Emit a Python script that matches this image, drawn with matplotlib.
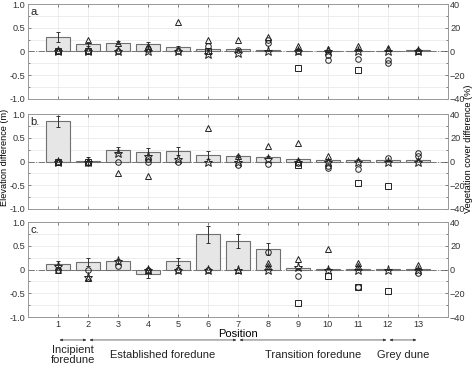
import numpy as np
import matplotlib
matplotlib.use("Agg")
from matplotlib import pyplot as plt
from matplotlib.ticker import MultipleLocator
import matplotlib.transforms as mtransforms

nan = np.nan
positions = np.arange(1, 14)

# elevation difference (m), bars + error
elev_a = [0.31, 0.16, 0.185, 0.16, 0.09, 0.06, 0.05, 0.03, 0.02, 0.02, 0.02, 0.02, 0.03]
err_a = [0.10, 0.05, 0.03, 0.04, 0.02, 0.02, 0.01, 0.01, 0.01, 0.01, 0.01, 0.01, 0.01]
elev_b = [0.85, 0.01, 0.25, 0.21, 0.22, 0.14, 0.11, 0.09, 0.05, 0.04, 0.04, 0.03, 0.04]
err_b = [0.12, 0.08, 0.06, 0.07, 0.08, 0.08, 0.02, 0.02, 0.01, 0.01, 0.01, 0.01, 0.01]
elev_c = [0.12, 0.16, 0.17, -0.09, 0.17, 0.74, 0.60, 0.43, 0.03, 0.02, 0.01, 0.01, 0.01]
err_c = [0.07, 0.08, 0.06, 0.08, 0.08, 0.18, 0.14, 0.12, 0.01, 0.01, 0.01, 0.01, 0.01]

# vegetation cover difference (%), markers
tri_a = [0, 10, 7.4, 5, 25, 10, 9.4, 12, 4.5, 2, 5, 2.5, 0]
circ_a = [0, 0, 0, 2, 0, 5, 1, 9.6, 0, -3, -6, -7, 0]
circ2_a = [nan, nan, nan, nan, nan, nan, nan, 7.4, nan, -7, nan, -10, nan]
sq_a = [0, 0, nan, nan, nan, 0, nan, nan, -14, nan, -15.6, nan, nan]
star_a = [0, 0, 0, 0, 0, -2, -1, 0, 0, 0, 0, 0, 0]

tri_b = [0, 0, -10, -12, nan, 28, 5, 13, 15.6, 5, nan, nan, nan]
circ_b = [0, -1, 0, 2, 0, nan, -3, -2, -1, -3.4, -6, 3, 7]
circ2_b = [nan, nan, nan, 0, nan, nan, nan, nan, nan, -5.4, nan, nan, 5]
sq_b = [0, 0, nan, nan, nan, nan, nan, nan, -3, nan, -18, -21, nan]
star_b = [0, 0, 7, 4.5, 2, 0, 0, 2, 0, 0, 0, 0, 0]

tri_c = [0, -7.3, nan, 0, nan, nan, 0, 5.4, 8.9, 17.4, 5.4, nan, 4]
tri2_c = [nan, nan, nan, nan, nan, nan, nan, 3.4, nan, nan, 3, nan, nan]
circ_c = [0, 0, 3.4, 0, 0, 0, nan, 14.8, -5.4, nan, -14.5, nan, -2.5]
sq_c = [nan, nan, nan, nan, nan, nan, nan, nan, -27.8, -5.4, -14.5, -18, nan]
star_c = [3.4, -6, 6.8, 0, 0, 0, 0, 0, 2, 0, 0, 0, 0]

zone_names = ["Incipient\nforedune", "Established foredune", "Transition foredune", "Grey dune"]
zone_start = [1, 2, 7, 12]
zone_end = [2, 7, 12, 13]

plt.rcParams['font.family'] = ['Liberation Sans', 'DejaVu Sans']
plt.rcParams['font.size'] = 6.6

fig = plt.figure(figsize=(4.74, 3.65), dpi=100)

panels = [
    ("a.", elev_a, err_a, [(tri_a, '^'), (circ_a, 'o'), (circ2_a, 'o'), (sq_a, 's'), (star_a, '*')]),
    ("b.", elev_b, err_b, [(tri_b, '^'), (circ_b, 'o'), (circ2_b, 'o'), (sq_b, 's'), (star_b, '*')]),
    ("c.", elev_c, err_c, [(tri_c, '^'), (tri2_c, '^'), (circ_c, 'o'), (sq_c, 's'), (star_c, '*')]),
]
bottoms = [0.729, 0.4274, 0.1315]

grey = '#999999'
axes = []
twins = []
for i, (lab, elev, err, marks) in enumerate(panels):
    ax = fig.add_axes([0.059, bottoms[i], 0.886, 0.26])
    ax.set_xlim(0, 14)
    ax.set_ylim(-1, 1)
    ax.bar(positions, elev, width=0.8, color='#e6e6e6', edgecolor='#707070', lw=0.8, zorder=2)
    ax.errorbar(positions, elev, yerr=err, fmt='none', ecolor='#333333', elinewidth=0.7,
                capsize=1.5, capthick=0.7, zorder=3)
    ax.axhline(0, color='#777777', ls='-.', lw=0.7, zorder=2.5)
    ax.set_xticks(positions)
    ax.set_yticks([-1, -0.5, 0, 0.5, 1])
    ax.set_yticklabels(["-1.0", "-0.5", "0", "0.5", "1.0"])
    ax.yaxis.set_minor_locator(MultipleLocator(0.25))
    ax.grid(True, which='both', color='#e6e6e6', lw=0.5, zorder=0)
    ax.set_axisbelow(True)
    ax.tick_params(which='both', direction='in', top=True, length=2.5, width=0.5,
                   colors='#555555', labelcolor='#333333', pad=2)
    ax.tick_params(which='minor', length=1.5)
    if i < 2:
        ax.tick_params(axis='x', labelbottom=False)
    for s in ax.spines.values():
        s.set_color(grey)
        s.set_linewidth(0.6)
    ax.text(0.006, 0.97, lab, transform=ax.transAxes, ha='left', va='top', fontsize=8, color='#222222')

    ax2 = ax.twinx()
    ax2.set_ylim(-40, 40)
    ax2.set_yticks([-40, -20, 0, 20, 40])
    ax2.yaxis.set_minor_locator(MultipleLocator(10))
    ax2.tick_params(which='both', direction='in', length=2.5, width=0.5,
                    colors='#555555', labelcolor='#333333', pad=1.5)
    ax2.tick_params(which='minor', length=1.5)
    for s in ax2.spines.values():
        s.set_color(grey)
        s.set_linewidth(0.6)
    for vals, m in marks:
        ms = 6.5 if m == '*' else 4
        ax2.plot(positions, vals, ls='none', marker=m, ms=ms, mfc='none',
                 mec='#222222', mew=0.7, zorder=4)
    axes.append(ax)
    twins.append(ax2)

axes[1].set_ylabel("Elevation difference (m)", fontsize=6.6)
axes[1].yaxis.set_label_coords(-0.045, 0.54)
twins[1].set_ylabel("Vegetation cover difference (%)", fontsize=6.6)
twins[1].yaxis.set_label_coords(1.039, 0.63)

axc = axes[2]
axc.set_xlabel("Position", fontsize=8, labelpad=0)

trans = mtransforms.blended_transform_factory(axc.transData, axc.transAxes)
for name, x0, x1 in zip(zone_names, zone_start, zone_end):
    axc.annotate("", xy=(x0, -0.242), xytext=(x1, -0.242), xycoords=trans, textcoords=trans,
                 arrowprops=dict(arrowstyle='<|-|>,head_length=0.25,head_width=0.1',
                                 color='#333333', lw=0.5, shrinkA=1, shrinkB=1),
                 annotation_clip=False)
    axc.text((x0 + x1) / 2, -0.40, name, transform=trans, ha='center', va='center',
             fontsize=8, color='#222222', linespacing=1.0)

fig.savefig("out.png", dpi=100)
